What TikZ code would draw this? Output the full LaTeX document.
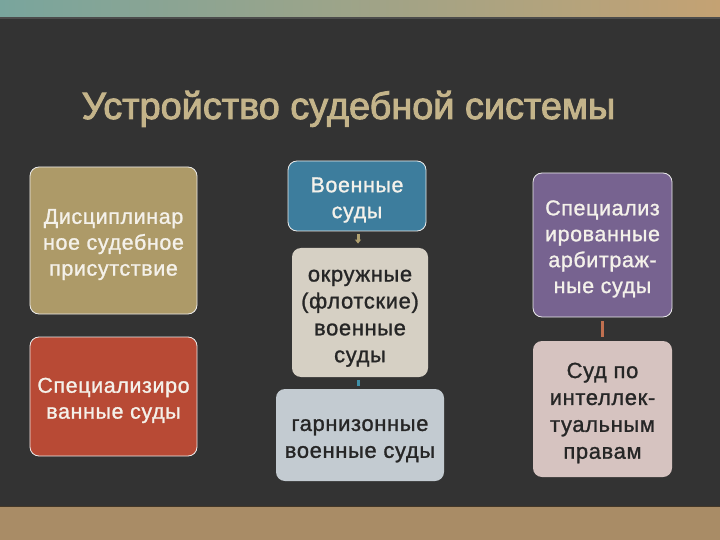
\documentclass[tikz,border=0pt]{standalone}
\usepackage{fontspec}
\setmainfont{Liberation Sans}
\newfontfamily\boxfont[LetterSpace=3, FakeBold=1.2]{Liberation Sans}
\newfontfamily\titlefont[FakeBold=2.5]{Liberation Sans}
\usetikzlibrary{arrows.meta}
\definecolor{bgc}{HTML}{333333}
\definecolor{titlec}{HTML}{C4B48A}
\definecolor{bandc}{HTML}{A98C66}
\definecolor{topl}{HTML}{79A59D}
\definecolor{topr}{HTML}{C4A273}
\definecolor{ltop}{HTML}{AD9A68}
\definecolor{lbot}{HTML}{B84A35}
\definecolor{ctop}{HTML}{3D7D9D}
\definecolor{cmid}{HTML}{D6D0C4}
\definecolor{cbot}{HTML}{C3CBD1}
\definecolor{rtop}{HTML}{776390}
\definecolor{rbot}{HTML}{D6C3C0}
\definecolor{darktxt}{HTML}{262626}
\definecolor{lighttxt}{HTML}{F4F1EA}
\definecolor{conna}{HTML}{B0A070}
\definecolor{connb}{HTML}{3E8FA8}
\definecolor{connc}{HTML}{C07050}
\newcommand{\boxtext}[1]{\raisebox{-4bp}[\height][\depth]{\begin{tabular}{@{}c@{}}#1\end{tabular}}}
\tikzset{
  box/.style={draw=white!85!gray, line width=0.8bp, rounded corners=9bp, inner sep=0pt},
  lightbox/.style={box, text=lighttxt, font=\boxfont\fontsize{21.5}{26}\selectfont},
  darkbox/.style={box, text=darktxt, draw=none, font=\boxfont\fontsize{22}{27}\selectfont},
  conn/.style={line width=3bp, line cap=butt}
}
\begin{document}
\begin{tikzpicture}[x=1bp,y=-1bp]
\fill[bgc] (0,0) rectangle (720,540);
\useasboundingbox (0,0) rectangle (720,540);
\shade[left color=topl, right color=topr] (0,0) rectangle (720,17);
\fill[black!70] (0,17) rectangle (720,19);
\fill[bandc] (0,507) rectangle (720,540);
\fill[black!60!bandc] (0,505.5) rectangle (720,507);
% title
\node[text=titlec, font=\titlefont\fontsize{38}{42}\selectfont, anchor=base] (title) at (348.5,119) {Устройство судебной системы};
% left column
\node[lightbox, fill=ltop, minimum width=167bp, minimum height=147bp] (lt) at (113.5,240.5) {\boxtext{Дисциплинар\\ное судебное\\присутствие}};
\node[lightbox, fill=lbot, minimum width=167bp, minimum height=119bp] (lb) at (113.5,396.5) {\boxtext{Специализиро\\ванные суды}};
% center column
\node[lightbox, fill=ctop, minimum width=138bp, minimum height=70bp] (ct) at (357,196) {\boxtext{Военные\\суды}};
\node[darkbox, fill=cmid, minimum width=136bp, minimum height=129bp] (cm) at (360,312.5) {\boxtext{окружные\\(флотские)\\военные\\суды}};
\node[darkbox, fill=cbot, minimum width=168bp, minimum height=92bp] (cb) at (360,435) {\boxtext{гарнизонные\\военные суды}};
% right column
\node[lightbox, fill=rtop, minimum width=139bp, minimum height=144bp] (rt) at (602.5,245) {\boxtext{Специализ\\ированные\\арбитраж-\\ные суды}};
\node[darkbox, fill=rbot, minimum width=139bp, minimum height=136bp] (rb) at (602.5,409) {\boxtext{Суд по\\интеллек-\\туальным\\правам}};
% connectors
\draw[conn, conna, -{Triangle[length=4bp,width=6bp]}] ([yshift=-3bp]ct.south -| 358,0) -- ([yshift=4bp]cm.north -| 358,0);
\draw[conn, connb] ([yshift=-3bp]cm.south -| 358,0) -- ([yshift=3bp]cb.north -| 358,0);
\draw[conn, connc] ([yshift=-4bp]rt.south) -- ([yshift=4bp]rb.north);
\end{tikzpicture}
\end{document}
